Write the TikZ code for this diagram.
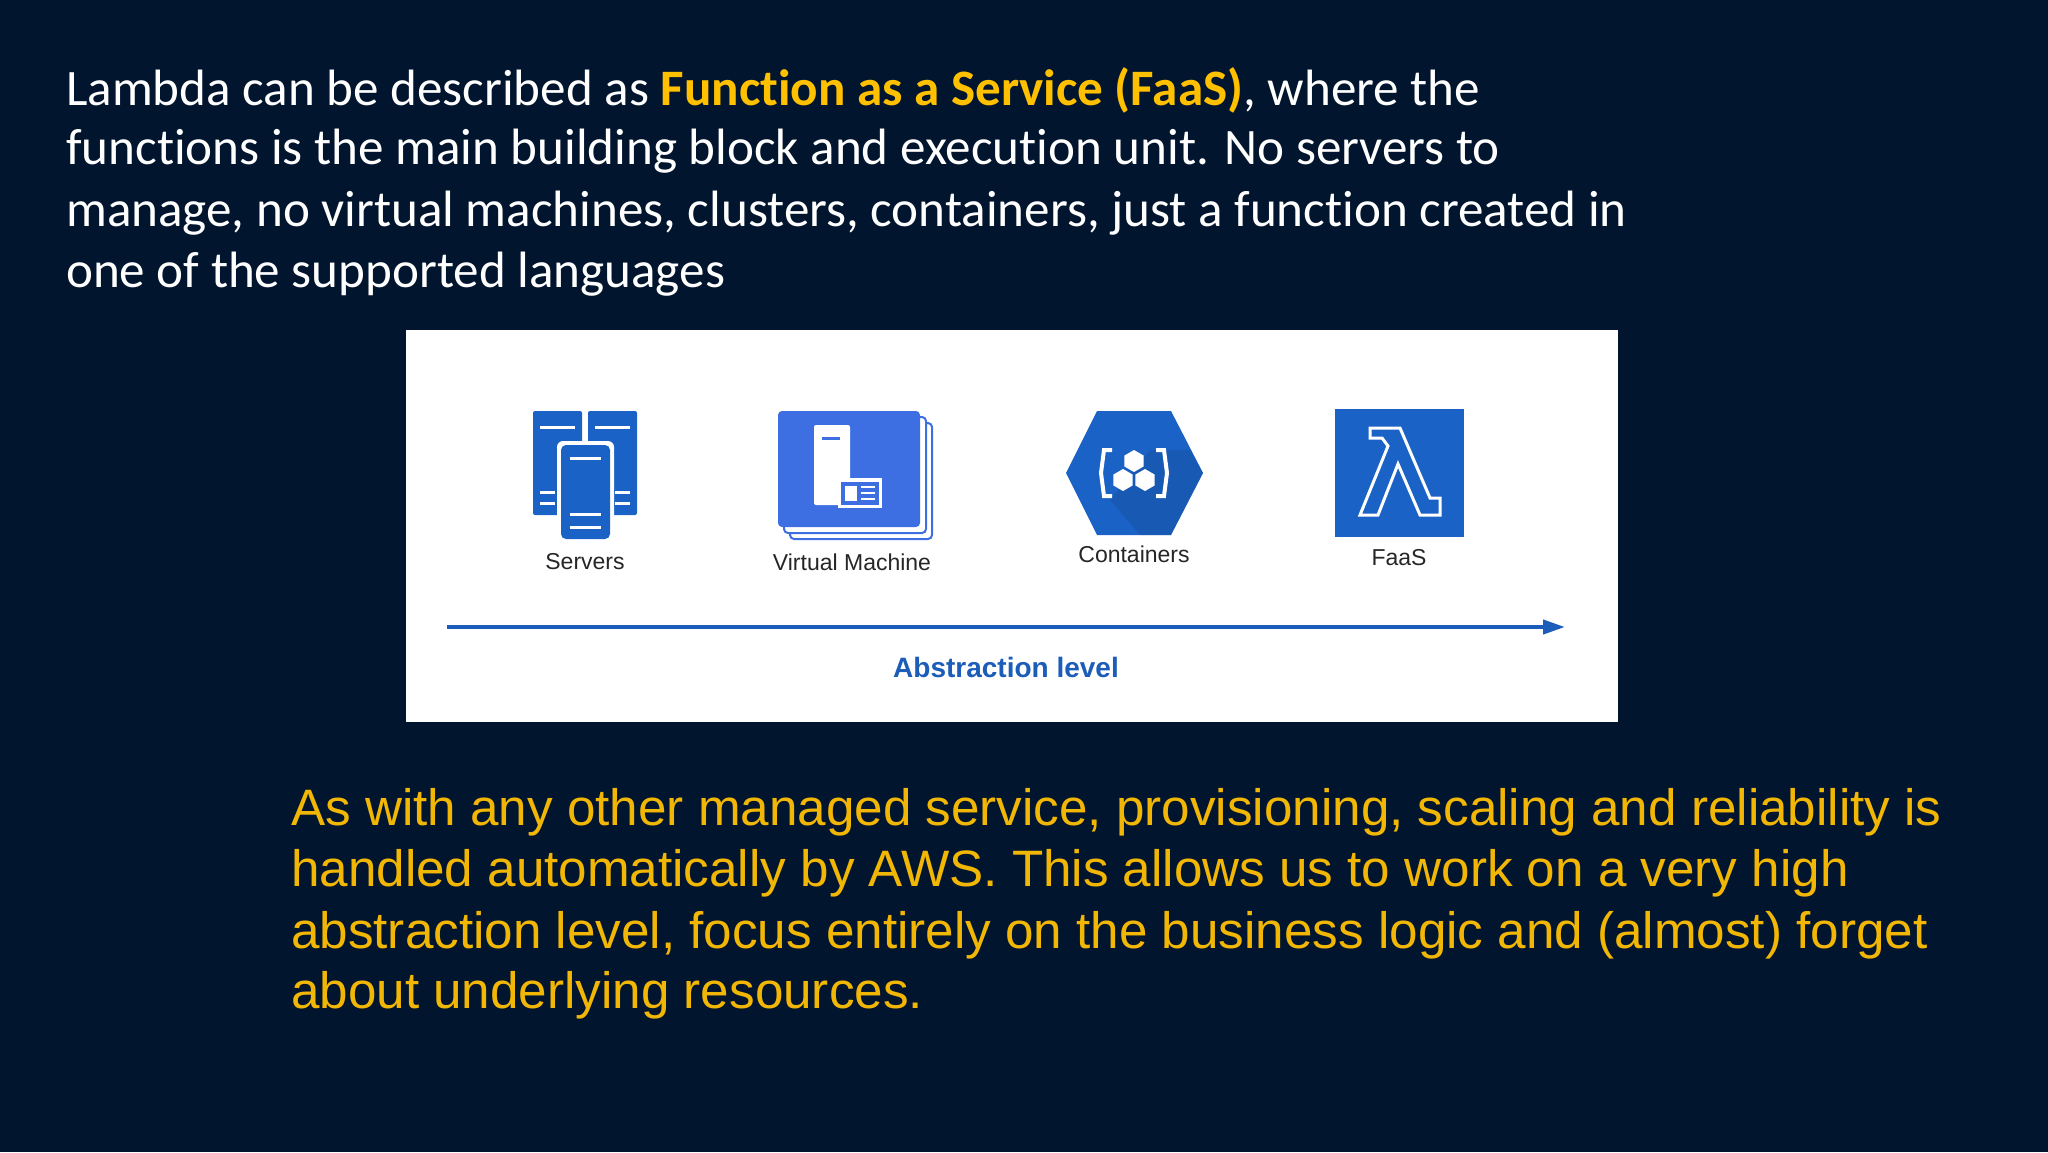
\documentclass[tikz,border=0pt]{standalone}
\usepackage{fontspec}
\setmainfont{Carlito}[Ligatures=NoCommon]
\newfontfamily\arialf{Liberation Sans}
\usetikzlibrary{arrows.meta,shapes.geometric}
\definecolor{bgc}{HTML}{02152E}
\definecolor{gold}{HTML}{FFC000}
\definecolor{txty}{HTML}{F2B705}
\definecolor{iblue}{HTML}{1A62C6}
\definecolor{vblue}{HTML}{3D6FE3}
\definecolor{ablue}{HTML}{1B5DB8}
\tikzset{
  para/.style={anchor=west,text=white,font=\fontsize{51.1}{60}\selectfont,inner sep=0},
  ypara/.style={anchor=west,text=txty,font=\arialf\fontsize{51.2}{60}\selectfont,inner sep=0},
  lbl/.style={text=black!85,font=\arialf\fontsize{23}{27}\selectfont},
  wline/.style={white,line width=3pt},
}
\begin{document}
\begin{tikzpicture}[x=1pt,y=-1pt]
\fill[bgc] (0,0) rectangle (2048,1152);
\useasboundingbox (0,0) rectangle (2048,1152);
\node[para] (l1) at (66,90) {Lambda can be described as \textcolor{gold}{\textbf{Function as a Service (FaaS)}}, where the};
\node[para] (l2) at (66,151) {functions is the main building block and execution unit. No servers to};
\node[para] (l3) at (66,213) {manage, no virtual machines, clusters, containers, just a function created in};
\node[para] (l4) at (66,274) {one of the supported languages};
\fill[white] (406,330) rectangle (1618,722);
% Servers
\fill[iblue,rounded corners=2pt] (533,411) rectangle (582,515);
\fill[iblue,rounded corners=2pt] (588,411) rectangle (637,515);
\foreach \x in {540,595}{\draw[wline] (\x,427)--(\x+35,427);}
\foreach \y in {492,503}{\draw[wline] (540,\y)--(555,\y); \draw[wline] (615,\y)--(630,\y);}
\fill[white,rounded corners=6pt] (557,441) rectangle (614,542);
\fill[iblue,rounded corners=5pt] (561,445) rectangle (610,539);
\draw[wline] (570,458)--(601,458);
\draw[wline] (570,514)--(601,514);
\draw[wline] (570,527)--(601,527);
\node[lbl] (svl) at (585,562) {Servers};
% VM
\draw[vblue,line width=2pt,rounded corners=4pt] (790,423) rectangle (932,539);
\fill[white,rounded corners=4pt] (784,417) rectangle (926,533);
\draw[vblue,line width=2pt,rounded corners=4pt] (784,417) rectangle (926,533);
\fill[vblue,rounded corners=4pt] (778,411) rectangle (920,527);
\fill[white,rounded corners=2pt] (814,425) rectangle (850,505);
\draw[vblue,line width=3pt] (822,438)--(840,438);
\fill[white] (838,478) rectangle (882,508);
\fill[vblue] (841,482) rectangle (879,505);
\fill[white] (845,486) rectangle (857,501);
\foreach \y in {487,493,499}{\draw[white,line width=1.5pt] (861,\y)--(875,\y);}
\node[lbl] (vml) at (852,562) {Virtual Machine};
% Containers
\fill[iblue] (1066,473)--(1097,411)--(1171,411)--(1203,473)--(1171,535)--(1097,535)--cycle;
\fill[ablue!80!black,opacity=0.35] (1150,450)--(1190,450)--(1203,473)--(1171,535)--(1140,535)--(1110,500)--cycle;
\draw[white,line width=4pt] (1112,450)--(1104,450)--(1101,473)--(1104,496)--(1112,496);
\draw[white,line width=4pt] (1156,450)--(1164,450)--(1167,473)--(1164,496)--(1156,496);
\foreach \cx/\cy in {1134/461, 1123/480, 1145/480}{
  \node[regular polygon,regular polygon sides=6,shape border rotate=30,fill=white,minimum size=22pt,inner sep=0] at (\cx,\cy) {};}
\node[lbl] (ctl) at (1134,554) {Containers};
% FaaS
\fill[iblue] (1335,409) rectangle (1464,537);
\draw[white,line width=3pt,line join=miter] (1370,428)--(1400,428)--(1430,498)--(1440,498)--(1440,515)--(1420,515)--(1398,464)--(1378,515)--(1360,515)--(1388,446)--(1382,438)--(1370,438)--cycle;
\node[lbl] (fal) at (1399,558) {FaaS};
% arrow
\coordinate (a1) at (447,627);
\coordinate (a2) at (1565,627);
\draw[ablue,line width=4pt,-{Triangle[length=22pt,width=14pt]}] (a1)--(a2);
\node[text=ablue,font=\arialf\bfseries\fontsize{28}{32}\selectfont] (abl) at (1006,667) {Abstraction level};
% yellow
\node[ypara] (y1) at (291,812) {As with any other managed service, provisioning, scaling and reliability is};
\node[ypara] (y2) at (291,873) {handled automatically by AWS. This allows us to work on a very high};
\node[ypara] (y3) at (291,935) {abstraction level, focus entirely on the business logic and (almost) forget};
\node[ypara] (y4) at (291,995) {about underlying resources.};
\end{tikzpicture}
\end{document}
